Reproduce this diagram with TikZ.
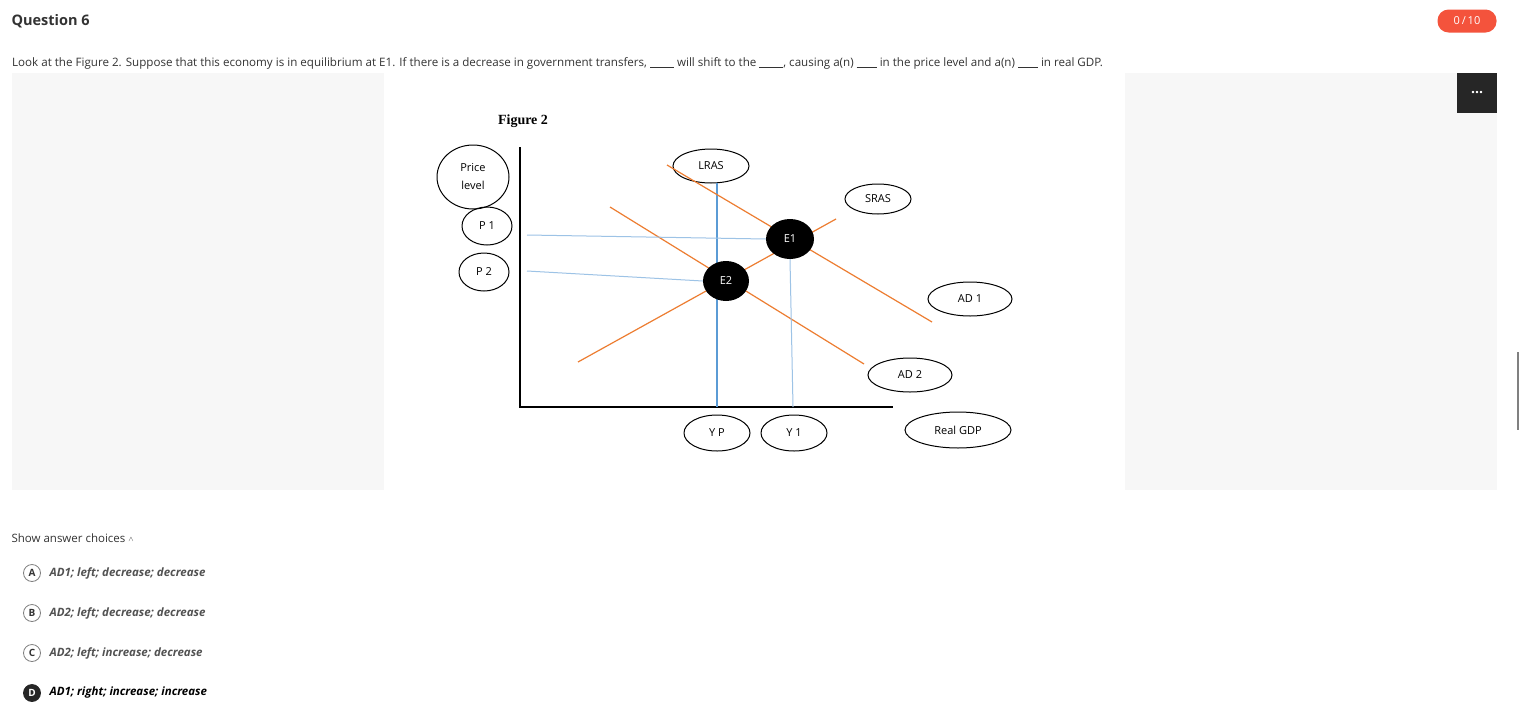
\documentclass[tikz,border=0pt]{standalone}
\usepackage{fontspec}
\usetikzlibrary{shapes.geometric}
\setmainfont{Open Sans}
\newfontfamily\figfont{Liberation Serif}
\definecolor{ora}{HTML}{ED7D31}
\definecolor{blu}{HTML}{5B9BD5}
\definecolor{lblu}{HTML}{9DC3E6}
\definecolor{panel}{HTML}{F7F7F7}
\definecolor{txt}{HTML}{333333}
\definecolor{badge}{HTML}{F4533C}
\begin{document}
\begin{tikzpicture}[x=1pt,y=-1pt,
  lab/.style={draw,ellipse,line width=1pt,inner sep=0pt,font=\fontsize{11}{18}\selectfont},
  eq/.style={fill=black,ellipse,text=white,inner sep=0pt,font=\fontsize{11}{12}\selectfont},
  curve/.style={ora,line width=1.2pt},
  opt/.style={draw=gray,circle,line width=0.8pt,minimum size=17pt,inner sep=0pt,font=\fontsize{10}{10}\selectfont\bfseries,text=txt},
  ans/.style={anchor=west,font=\fontsize{11.5}{13}\selectfont\itshape\bfseries,text=txt!85}]
\useasboundingbox (0,0) rectangle (1523,715);
\fill[white] (0,0) rectangle (1523,715);
\node[anchor=west,font=\fontsize{14.5}{16}\selectfont\bfseries,text=txt] (q) at (8,21) {Question 6};
\node[fill=badge,rounded corners=11pt,minimum width=59pt,minimum height=23pt,text=white,font=\fontsize{11}{12}\selectfont] (b) at (1467,21) {0\,/\,10};
\node[anchor=west,font=\fontsize{11.6}{13}\selectfont,text=txt,inner sep=0pt] (qt) at (12,63) {Look at the Figure 2. Suppose that this economy is in equilibrium at E1. If there is a decrease in government transfers, \underline{\hspace{24pt}} will shift to the \underline{\hspace{24pt}}, causing a(n) \underline{\hspace{20pt}} in the price level and a(n) \underline{\hspace{20pt}} in real GDP.};
\fill[panel] (12,73) rectangle (384,490);
\fill[panel] (1125,73) rectangle (1497,490);
\node[fill=black!85,minimum width=40pt,minimum height=40pt,text=white,inner sep=0pt,font=\fontsize{14}{14}\selectfont\bfseries] (dots) at (1477,93) {...};
\draw[gray,line width=1.5pt] (1518,352) -- (1518,430);
% figure
\node[font=\figfont\fontsize{14}{15}\selectfont\bfseries] (fig) at (523,121) {Figure 2};
\coordinate (o) at (520,407);
\coordinate (yt) at (520,147);
\coordinate (xr) at (893,407);
\draw[line width=2pt] (yt) -- (o) -- (xr);
\node[lab,minimum width=72pt,minimum height=64pt,align=center] (pl) at (473,177) {Price\\level};
\node[lab,minimum width=76pt,minimum height=34pt] (lras) at (711,166) {LRAS};
\node[lab,minimum width=66pt,minimum height=30pt] (sras) at (878,199) {SRAS};
\node[lab,minimum width=50pt,minimum height=38pt] (p1) at (487,226) {P 1};
\node[lab,minimum width=50pt,minimum height=38pt] (p2) at (484,272) {P 2};
\node[lab,minimum width=84pt,minimum height=34pt] (ad1) at (970,299) {AD 1};
\node[lab,minimum width=84pt,minimum height=34pt] (ad2) at (910,375) {AD 2};
\node[lab,minimum width=66pt,minimum height=36pt] (yp) at (717,433) {Y P};
\node[lab,minimum width=66pt,minimum height=36pt] (y1) at (794,433) {Y 1};
\node[lab,minimum width=106pt,minimum height=36pt] (gdp) at (958,430) {Real GDP};
\coordinate (ad1a) at (667,165); \coordinate (ad1b) at (932,322);
\coordinate (ad2a) at (610,207); \coordinate (ad2b) at (864,364);
\coordinate (sa) at (578,362); \coordinate (sb) at (836,219);
\coordinate (lt) at (717,183); \coordinate (lb) at (717,407);
\coordinate (y1b) at (793,407);
\coordinate (p1a) at (527,235); \coordinate (p2a) at (527,271);
\draw[blu,line width=1.5pt] (lt) -- (lb);
\draw[curve] (ad1a) -- (ad1b);
\draw[curve] (ad2a) -- (ad2b);
\draw[curve] (sa) -- (sb);
\node[eq,minimum width=48pt,minimum height=40pt] (e1) at (790,239) {E1};
\node[eq,minimum width=46pt,minimum height=40pt] (e2) at (726,281) {E2};
\draw[lblu,line width=1pt] (p1a) -- (e1.west);
\draw[lblu,line width=1pt] (p2a) -- (e2.west);
\draw[lblu,line width=1pt] (e1.south) -- (y1b);
% answers
\node[anchor=west,font=\fontsize{11.5}{13}\selectfont,text=txt] (show) at (8,538) {Show answer choices \raisebox{1pt}{\scriptsize$\wedge$}};
\node[opt] (oa) at (32,573) {A};
\node[opt] (ob) at (32,613) {B};
\node[opt] (oc) at (32,653) {C};
\node[opt,fill=black!85,draw=black!85,text=white] (od) at (32,693) {D};
\node[ans] (ta) at (46,573) {AD1; left; decrease; decrease};
\node[ans] (tb) at (46,613) {AD2; left; decrease; decrease};
\node[ans] (tc) at (46,653) {AD2; left; increase; decrease};
\node[ans,text=black] (td) at (46,693) {AD1; right; increase; increase};
\end{tikzpicture}
\end{document}
